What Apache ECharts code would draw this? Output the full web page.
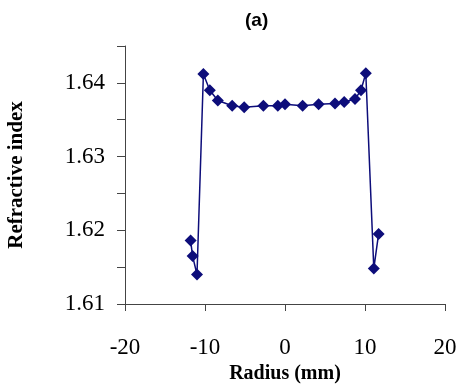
<!DOCTYPE html>
<html lang="en">
<head>
  <meta charset="UTF-8">
  <title>Refractive index vs radius</title>
  <script src="https://cdn.jsdelivr.net/npm/echarts@6/dist/echarts.min.js"></script>
  <style>
    html, body { margin: 0; padding: 0; background: #fff; }
  </style>
</head>
<body>
  <div id="main" style="width: 474px;height:392px;"></div>
  <script>
    var radius = [-11.8, -11.55, -11.0, -10.2, -9.4, -8.4, -6.6, -5.1, -2.7, -0.9, 0.0,
                  2.2, 4.2, 6.25, 7.4, 8.75, 9.5, 10.1, 11.1, 11.7];
    var refIndex = [1.6186, 1.6165, 1.6140, 1.6412, 1.6390, 1.6376, 1.6369, 1.6367, 1.6369, 1.6369, 1.6371,
                    1.6369, 1.6371, 1.6372, 1.6374, 1.6378, 1.6390, 1.6413, 1.6148, 1.6195];
    var yLabels = ['1.61', '1.62', '1.63', '1.64'];

    var myChart = echarts.init(document.getElementById('main'));

    var points = radius.map(function (r, i) { return [r, refIndex[i]]; });
    var axisColor = '#444';

    myChart.setOption({
      animation: false,
      title: {
        text: '(a)',
        left: 240,
        top: 6,
        textStyle: { fontFamily: 'Liberation Sans', fontWeight: 'bold', fontSize: 19, color: '#000' }
      },
      grid: { left: 125, right: 29, top: 46, bottom: 88, containLabel: false, outerBoundsMode: 'none' },
      xAxis: {
        type: 'value',
        min: -20,
        max: 20,
        interval: 10,
        name: 'Radius (mm)',
        nameLocation: 'middle',
        nameGap: 54,
        nameTextStyle: { fontFamily: 'Liberation Serif', fontWeight: 'bold', fontSize: 20, color: '#000' },
        axisLine: { onZero: false, lineStyle: { color: axisColor, width: 1 } },
        axisTick: { inside: false, length: 7, lineStyle: { color: axisColor } },
        axisLabel: { fontFamily: 'Liberation Serif', fontSize: 23, color: '#000', margin: 32 },
        splitLine: { show: false }
      },
      yAxis: {
        type: 'value',
        min: 1.61,
        max: 1.645,
        interval: 0.005,
        name: 'Refractive index',
        nameLocation: 'middle',
        nameRotate: 90,
        nameGap: 98,
        nameTextStyle: { fontFamily: 'Liberation Serif', fontWeight: 'bold', fontSize: 21, color: '#000' },
        axisLine: { show: true, onZero: false, lineStyle: { color: axisColor, width: 1 } },
        axisTick: { show: true, inside: false, length: 8, lineStyle: { color: axisColor } },
        axisLabel: {
          fontFamily: 'Liberation Serif',
          fontSize: 23,
          color: '#000',
          margin: 20,
          formatter: function (v) {
            var s = v.toFixed(2);
            return (Math.abs(v - parseFloat(s)) < 1e-6 && yLabels.indexOf(s) >= 0) ? s : '';
          }
        },
        splitLine: { show: false }
      },
      series: [
        {
          type: 'line',
          data: points,
          symbol: 'diamond',
          symbolSize: 12,
          itemStyle: { color: '#0d0d7a' },
          lineStyle: { color: '#0d0d7a', width: 1.5 }
        }
      ]
    });
  </script>
</body>
</html>
